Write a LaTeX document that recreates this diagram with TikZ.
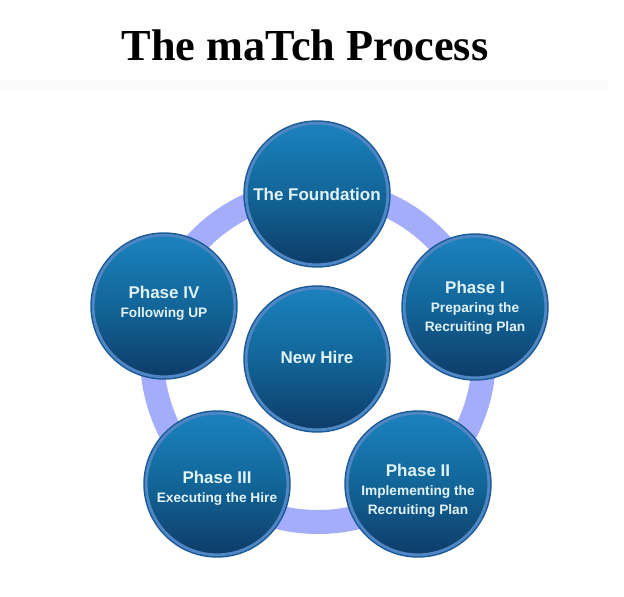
\documentclass[tikz,border=0pt]{standalone}
\usepackage{fontspec}
\setmainfont{Liberation Sans}
\newfontfamily\titlefont{Liberation Serif}
\definecolor{ringblue}{HTML}{A3ADFA}
\definecolor{edgedark}{HTML}{1B5A96}
\definecolor{edgelight}{HTML}{4F86C4}
\definecolor{balltop}{HTML}{1A7FBA}
\definecolor{ballmid}{HTML}{126598}
\definecolor{ballbot}{HTML}{0E3C68}
\definecolor{labelcol}{HTML}{E0F2F6}
\pgfdeclareverticalshading{ballshade}{100bp}{color(0bp)=(ballbot); color(25bp)=(ballbot); color(50bp)=(ballmid); color(72bp)=(balltop); color(100bp)=(balltop)}
\tikzset{
  ball/.style={circle,minimum size=141.6pt,inner sep=0pt,outer sep=0pt,shading=ballshade,draw=edgelight,line width=2.8pt,
    text=labelcol,font=\bfseries\fontsize{17}{19}\selectfont,
    append after command={\pgfextra{\draw[edgedark,line width=2pt] (\tikzlastnode.center) circle (72.7pt);}}},
}
\newcommand{\subline}[1]{{\fontsize{13.7}{19}\selectfont #1}}
\newcommand{\balltext}[2]{\smash{\raisebox{\dimexpr #1pt-7pt\relax}{\begin{tabular}{@{}c@{}}#2\end{tabular}}}}
\begin{document}
\begin{tikzpicture}[x=1pt,y=-1pt]
\useasboundingbox (0,0) rectangle (624,597);
\fill[white] (0,0) rectangle (624,597);
\fill[black!1.5] (0,80) rectangle (608,90);
\node[font=\titlefont\bfseries\fontsize{44.3}{48}\selectfont] (title) at (305,45) {The maTch Process};
\node[circle,draw=ringblue,line width=24pt,minimum size=332pt,inner sep=0pt,outer sep=0pt] (ring) at (318,356) {};
\node[ball] (foundation) at (317,194) {\balltext{0}{The Foundation}};
\node[ball] (p1) at (475,307) {\balltext{0.5}{Phase I\\\subline{Preparing the}\\\subline{Recruiting Plan}}};
\node[ball] (p2) at (418,484) {\balltext{-5}{Phase II\\\subline{Implementing the}\\\subline{Recruiting Plan}}};
\node[ball] (p3) at (217,484) {\balltext{-2.5}{Phase III\\\subline{Executing the Hire}}};
\node[ball] (p4) at (164,306) {\balltext{4.5}{Phase IV\\\subline{Following UP}}};
\node[ball] (hire) at (317,359) {\balltext{2}{New Hire}};
\end{tikzpicture}
\end{document}
